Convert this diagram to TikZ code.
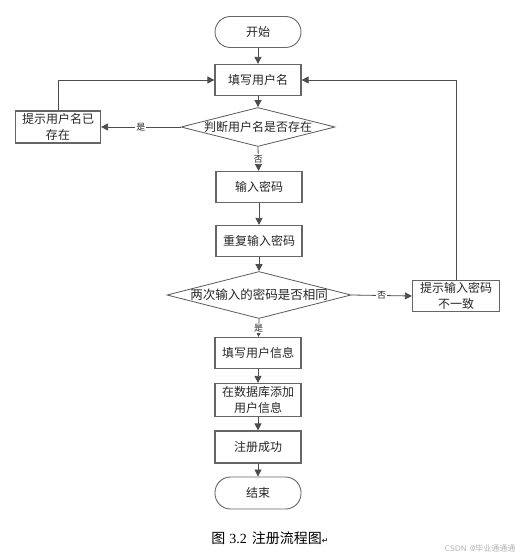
\documentclass[tikz,border=0pt]{standalone}
\usepackage{fontspec}
\setmainfont{Liberation Serif}
\newfontfamily\cjk{Noto Sans CJK SC}
\newfontfamily\symfont{DejaVu Sans}
\usetikzlibrary{shapes.geometric,arrows.meta}

\begin{document}
\begin{tikzpicture}[x=1pt,y=-1pt,
  every node/.style={font=\cjk\fontsize{12}{16}\selectfont,text=black!85},
  box/.style={draw=black!60,line width=1.2pt,minimum width=86,minimum height=31,align=center,inner sep=1pt},
  term/.style={box,line width=0.9pt,rounded corners=15.5pt},
  dia/.style={draw=black!65,line width=0.8pt,diamond,minimum width=154,minimum height=39,inner sep=0pt},
  arr/.style={draw=black!70,line width=0.8pt,-{Triangle[length=7pt,width=7pt]}},
  lbl/.style={fill=white,inner sep=1pt,font=\cjk\fontsize{9}{9}\selectfont}]
            \useasboundingbox (0,0) rectangle (523,559);

            % main column
            \node[term] (start) at (258,32) {开始};
            \node[box] (name) at (258,80) {填写用户名};
            \node[dia,label=center:判断用户名是否存在] (chkname) at (258,127) {};
            \node[box,minimum width=85,minimum height=32] (exists) at (58,127) {提示用户名已\\存在};
            \node[box] (pwd) at (259,187) {输入密码};
            \node[box] (pwdagain) at (259,241) {重复输入密码};
            \node[dia,minimum width=184,minimum height=47,label=center:{\fontsize{12.5}{16}\selectfont 两次输入的密码是否相同}] (chkpwd) at (259,295) {};
            \node[box,minimum width=87] (mismatch) at (456,296) {提示输入密码\\不一致};
            \node[box] (info) at (258,353) {填写用户信息};
            \node[box,minimum height=33] (db) at (258,400) {在数据库添加\\用户信息};
            \node[box,minimum height=32] (ok) at (258,447) {注册成功};
            \node[term,minimum height=32] (end) at (258,493) {结束};

            % arrows
            \draw[arr] (start) -- (name);
            \draw[arr] (name) -- (chkname);
            \draw[arr] (chkname.west) -- node[lbl] {是} (exists.east);
            \draw[arr] (exists.north) |- (name.west);
            \draw[arr] (chkname.south) -- node[lbl] {否} (pwd);
            \draw[arr] (pwd) -- (pwdagain);
            \draw[arr] (pwdagain) -- (chkpwd.north);
            \draw[arr] (chkpwd.east) -- node[lbl] {否} (mismatch.west);
            \draw[arr] (mismatch.north) |- (name.east);
            \draw[arr] (chkpwd.south) -- node[lbl] {是} (info);
            \draw[arr] (info) -- (db);
            \draw[arr] (db) -- (ok);
            \draw[arr] (ok) -- (end);

            % caption
            \node[font=\cjk\fontsize{14}{16}\selectfont,text=black] (caption) at (270,538) {图\hspace{4pt}{\rmfamily 3.2}\hspace{5pt}注册流程图{\symfont\fontsize{8}{8}\selectfont ↵}};
            \node[anchor=east,text=black!30,font=\sffamily\fontsize{8}{8}\selectfont] (mark) at (519,548) {CSDN @{\cjk 毕业通通通}};
        \end{tikzpicture}
\end{document}
